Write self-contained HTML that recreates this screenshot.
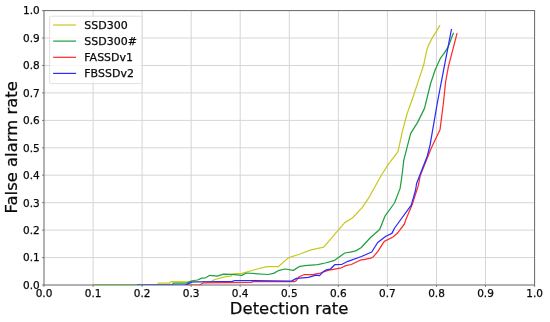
<!DOCTYPE html>
<html><head><meta charset="utf-8"><title>ROC</title>
<style>
html,body{margin:0;padding:0;background:#fff;}
svg{display:block;}
text{font-family:"DejaVu Sans","Liberation Sans",sans-serif;fill:#0a0a0a;stroke:#0a0a0a;stroke-width:0.25px;}
.tk{font-size:10.5px;}
.lg{font-size:11px;}
.ax{font-size:16.45px;}
</style></head><body>
<svg width="550" height="322" viewBox="0 0 550 322">
<rect x="0" y="0" width="550" height="322" fill="#fff"/>
<defs><clipPath id="c"><rect x="44.0" y="10.6" width="490.6" height="274.4"/></clipPath></defs>
<g stroke="#d6d6d6" stroke-width="1"><line x1="93.1" y1="10.6" x2="93.1" y2="285.0"/><line x1="44.0" y1="257.6" x2="534.6" y2="257.6"/><line x1="142.1" y1="10.6" x2="142.1" y2="285.0"/><line x1="44.0" y1="230.1" x2="534.6" y2="230.1"/><line x1="191.2" y1="10.6" x2="191.2" y2="285.0"/><line x1="44.0" y1="202.7" x2="534.6" y2="202.7"/><line x1="240.2" y1="10.6" x2="240.2" y2="285.0"/><line x1="44.0" y1="175.2" x2="534.6" y2="175.2"/><line x1="289.3" y1="10.6" x2="289.3" y2="285.0"/><line x1="44.0" y1="147.8" x2="534.6" y2="147.8"/><line x1="338.4" y1="10.6" x2="338.4" y2="285.0"/><line x1="44.0" y1="120.4" x2="534.6" y2="120.4"/><line x1="387.4" y1="10.6" x2="387.4" y2="285.0"/><line x1="44.0" y1="92.9" x2="534.6" y2="92.9"/><line x1="436.5" y1="10.6" x2="436.5" y2="285.0"/><line x1="44.0" y1="65.5" x2="534.6" y2="65.5"/><line x1="485.5" y1="10.6" x2="485.5" y2="285.0"/><line x1="44.0" y1="38.0" x2="534.6" y2="38.0"/></g>
<rect x="44.0" y="10.6" width="490.6" height="274.4" fill="none" stroke="#666" stroke-width="1"/>
<polyline clip-path="url(#c)" fill="none" stroke="#c9c922" stroke-width="1.25" stroke-linejoin="round" points="93.0,285.0 157.3,285.0 158.3,283.2 169.5,283.2 171.0,281.7 190.0,281.8 211.6,281.4 214.9,279.5 225.8,276.7 230.7,276.2 233.5,273.8 241.7,273.4 255.7,269.5 266.6,266.7 278.2,266.7 288.3,257.9 300.0,254.0 311.0,249.8 323.7,247.2 344.8,222.6 352.6,217.8 362.4,207.4 369.4,196.8 381.2,175.5 388.5,164.2 398.0,151.7 402.2,132.2 407.0,114.0 412.0,100.0 418.0,82.1 423.6,65.3 426.4,51.8 428.0,46.4 431.8,38.7 436.2,31.6 440.0,25.1"/>
<polyline clip-path="url(#c)" fill="none" stroke="#1fa040" stroke-width="1.25" stroke-linejoin="round" points="93.0,285.0 171.6,285.0 174.0,283.1 186.5,283.1 191.0,281.2 194.0,280.5 197.5,280.0 201.8,278.1 205.6,277.8 210.0,275.3 217.1,276.2 223.6,274.2 232.4,274.4 241.7,275.4 246.4,273.0 268.0,274.5 273.6,273.4 278.2,270.7 285.2,269.0 293.3,270.4 299.1,266.7 304.6,265.7 317.6,264.6 325.2,263.0 333.9,260.7 344.8,253.0 350.2,252.2 355.7,250.9 361.0,247.7 370.8,237.3 379.7,229.5 384.8,216.4 394.5,203.0 400.1,188.4 402.0,175.5 403.8,160.1 410.6,133.6 417.6,122.4 424.5,108.4 430.6,83.5 435.3,69.5 440.3,58.4 444.4,52.9 448.2,46.9 450.3,41.4 452.0,36.5 453.6,32.7"/>
<polyline clip-path="url(#c)" fill="none" stroke="#ff2a2a" stroke-width="1.25" stroke-linejoin="round" points="185.0,285.0 199.6,285.0 203.5,282.8 251.0,282.4 253.4,281.6 294.2,281.6 295.8,281.2 299.1,276.8 304.0,274.7 312.7,274.6 320.4,273.1 323.6,271.9 328.0,270.3 341.4,267.8 345.8,265.6 351.3,264.5 360.0,260.2 365.0,259.4 370.8,258.2 373.4,256.7 377.7,251.6 384.3,241.4 393.0,237.0 397.3,233.3 404.4,224.0 405.9,219.4 412.2,204.6 418.3,185.6 420.3,175.5 431.5,147.6 440.0,129.8 443.4,103.0 445.6,82.0 448.4,66.7 457.1,33.2"/>
<polyline clip-path="url(#c)" fill="none" stroke="#2a2aff" stroke-width="1.25" stroke-linejoin="round" points="137.0,285.0 185.6,285.0 190.7,282.6 192.5,282.0 232.4,281.4 234.8,280.5 291.5,281.1 296.4,278.4 308.4,277.3 316.0,275.2 319.5,275.6 323.6,271.4 325.4,270.2 330.2,269.2 334.7,264.7 342.0,264.3 348.0,261.3 361.4,256.5 371.7,252.0 377.7,242.5 385.9,236.2 391.9,233.4 394.6,228.0 399.0,222.0 411.3,205.2 415.6,190.0 416.6,183.5 427.3,156.0 430.1,144.8 437.3,103.0 444.5,65.3 451.5,29.0"/>
<g stroke="#666" stroke-width="0.8"><line x1="44.0" y1="285.0" x2="44.0" y2="287.0"/><line x1="42.0" y1="285.0" x2="44.0" y2="285.0"/><line x1="93.1" y1="285.0" x2="93.1" y2="287.0"/><line x1="42.0" y1="257.6" x2="44.0" y2="257.6"/><line x1="142.1" y1="285.0" x2="142.1" y2="287.0"/><line x1="42.0" y1="230.1" x2="44.0" y2="230.1"/><line x1="191.2" y1="285.0" x2="191.2" y2="287.0"/><line x1="42.0" y1="202.7" x2="44.0" y2="202.7"/><line x1="240.2" y1="285.0" x2="240.2" y2="287.0"/><line x1="42.0" y1="175.2" x2="44.0" y2="175.2"/><line x1="289.3" y1="285.0" x2="289.3" y2="287.0"/><line x1="42.0" y1="147.8" x2="44.0" y2="147.8"/><line x1="338.4" y1="285.0" x2="338.4" y2="287.0"/><line x1="42.0" y1="120.4" x2="44.0" y2="120.4"/><line x1="387.4" y1="285.0" x2="387.4" y2="287.0"/><line x1="42.0" y1="92.9" x2="44.0" y2="92.9"/><line x1="436.5" y1="285.0" x2="436.5" y2="287.0"/><line x1="42.0" y1="65.5" x2="44.0" y2="65.5"/><line x1="485.5" y1="285.0" x2="485.5" y2="287.0"/><line x1="42.0" y1="38.0" x2="44.0" y2="38.0"/><line x1="534.6" y1="285.0" x2="534.6" y2="287.0"/><line x1="42.0" y1="10.6" x2="44.0" y2="10.6"/></g>
<text class="tk" x="44.0" y="297.3" text-anchor="middle">0.0</text>
<text class="tk" x="39.8" y="288.8" text-anchor="end">0.0</text>
<text class="tk" x="93.1" y="297.3" text-anchor="middle">0.1</text>
<text class="tk" x="39.8" y="261.4" text-anchor="end">0.1</text>
<text class="tk" x="142.1" y="297.3" text-anchor="middle">0.2</text>
<text class="tk" x="39.8" y="233.9" text-anchor="end">0.2</text>
<text class="tk" x="191.2" y="297.3" text-anchor="middle">0.3</text>
<text class="tk" x="39.8" y="206.5" text-anchor="end">0.3</text>
<text class="tk" x="240.2" y="297.3" text-anchor="middle">0.4</text>
<text class="tk" x="39.8" y="179.0" text-anchor="end">0.4</text>
<text class="tk" x="289.3" y="297.3" text-anchor="middle">0.5</text>
<text class="tk" x="39.8" y="151.6" text-anchor="end">0.5</text>
<text class="tk" x="338.4" y="297.3" text-anchor="middle">0.6</text>
<text class="tk" x="39.8" y="124.2" text-anchor="end">0.6</text>
<text class="tk" x="387.4" y="297.3" text-anchor="middle">0.7</text>
<text class="tk" x="39.8" y="96.7" text-anchor="end">0.7</text>
<text class="tk" x="436.5" y="297.3" text-anchor="middle">0.8</text>
<text class="tk" x="39.8" y="69.3" text-anchor="end">0.8</text>
<text class="tk" x="485.5" y="297.3" text-anchor="middle">0.9</text>
<text class="tk" x="39.8" y="41.8" text-anchor="end">0.9</text>
<text class="tk" x="534.6" y="297.3" text-anchor="middle">1.0</text>
<text class="tk" x="39.8" y="14.4" text-anchor="end">1.0</text>
<text class="ax" x="289.1" y="314.1" text-anchor="middle">Detection rate</text>
<text class="ax" transform="translate(16.5,147.3) rotate(-90)" text-anchor="middle">False alarm rate</text>
<rect x="49.6" y="16.2" width="92.4" height="67.4" rx="1.5" fill="#fff" fill-opacity="0.8" stroke="#d4d4d4" stroke-width="0.7"/>
<line x1="53.1" y1="25.0" x2="76.1" y2="25.0" stroke="#c9c922" stroke-width="1.2"/>
<text class="lg" x="84.3" y="29.0">SSD300</text>
<line x1="53.1" y1="41.1" x2="76.1" y2="41.1" stroke="#1fa040" stroke-width="1.2"/>
<text class="lg" x="84.3" y="45.1">SSD300#</text>
<line x1="53.1" y1="57.3" x2="76.1" y2="57.3" stroke="#ff2a2a" stroke-width="1.2"/>
<text class="lg" x="84.3" y="61.3">FASSDv1</text>
<line x1="53.1" y1="73.4" x2="76.1" y2="73.4" stroke="#2a2aff" stroke-width="1.2"/>
<text class="lg" x="84.3" y="77.4">FBSSDv2</text>
</svg></body></html>
